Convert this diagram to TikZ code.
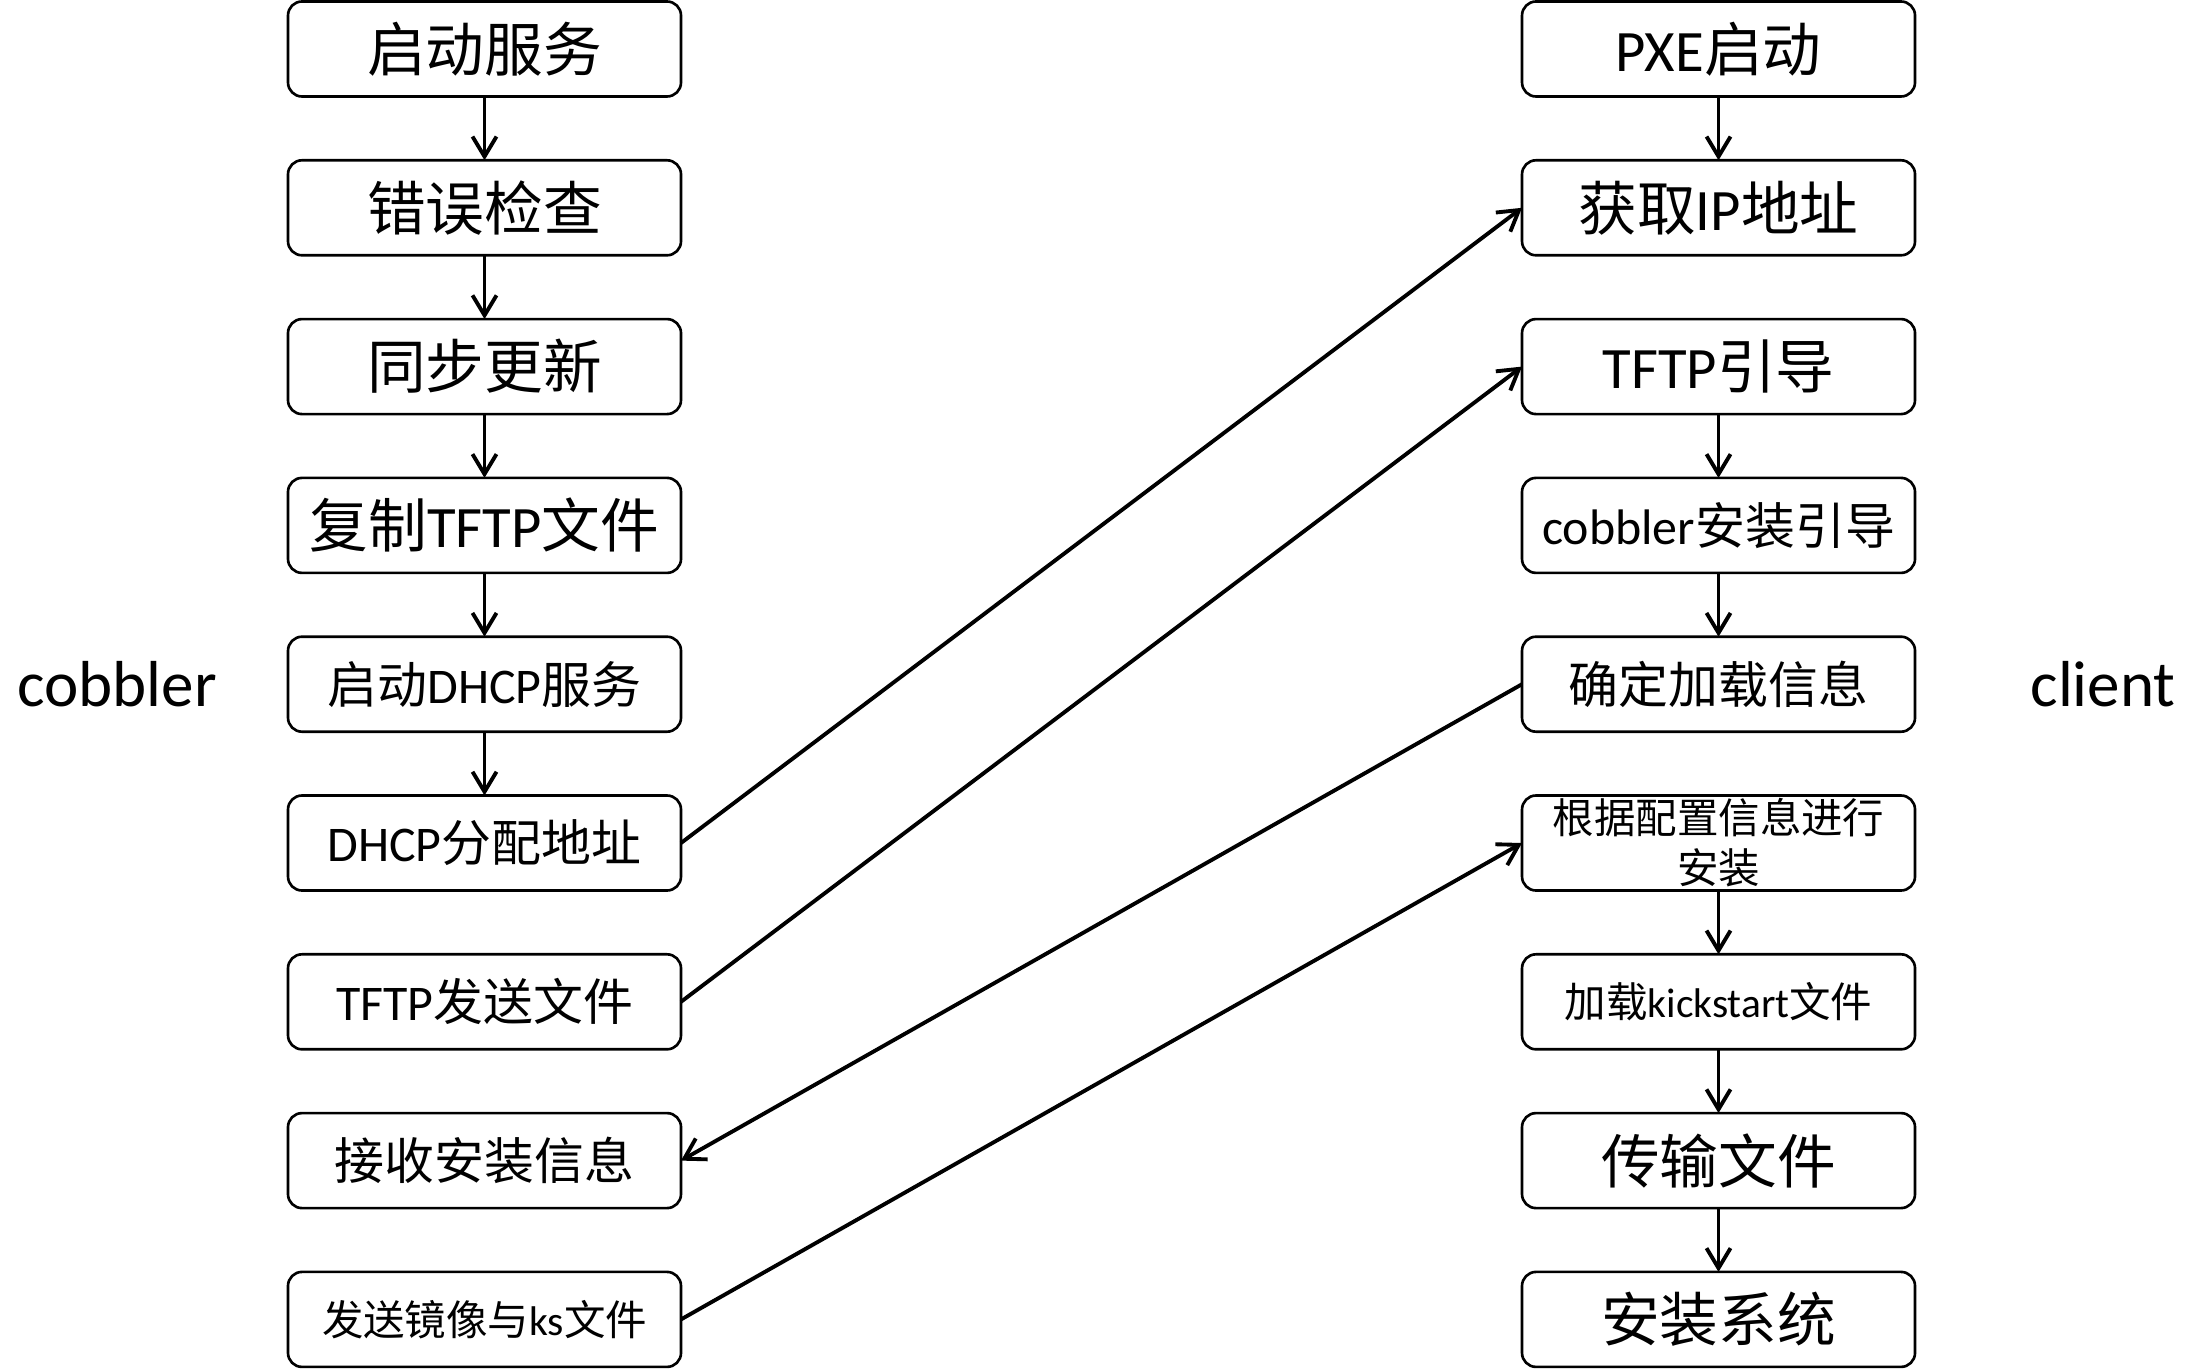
\documentclass[tikz,border=0pt]{standalone}
\usepackage{fontspec}
\setmainfont{Noto Sans CJK SC}
\newfontfamily\latinfont{Carlito}
\usetikzlibrary{arrows.meta,positioning}

\newcommand\latn[1]{{\latinfont #1}}
\newcommand\bigtxt{\fontsize{16.7}{20}\selectfont}
\newcommand\midtxt{\fontsize{14.2}{17}\selectfont}
\newcommand\smalltxt{\fontsize{11.8}{14.3}\selectfont}

\begin{document}
\begin{tikzpicture}[-,>={Straight Barb[length=2mm,width=2.4mm]},line width=1.1pt,
                    node distance=.638cm]
\useasboundingbox (0,0) rectangle (21.92,-13.69);
\tikzset{StepBox/.style = {draw,rectangle,rounded corners=1.4mm,line width=.75pt,
                           minimum width=3.93cm,minimum height=.95cm,
                           inner sep=0pt,outer sep=0pt,align=center,font=\bigtxt},
         MidBox/.style = {StepBox,font=\midtxt},
         SmallBox/.style = {StepBox,font=\smalltxt},
         SideLabel/.style = {font=\latinfont\fontsize{18.5}{22}\selectfont}}
% cobbler side
\node[StepBox] (cob1) at (4.845,-.49) {启动服务};
\node[StepBox] (cob2) [below=of cob1] {错误检查};
\node[StepBox] (cob3) [below=of cob2] {同步更新};
\node[StepBox] (cob4) [below=of cob3] {复制\latn{TFTP}文件};
\node[MidBox] (cob5) [below=of cob4] {启动\latn{DHCP}服务};
\node[MidBox] (cob6) [below=of cob5] {\latn{DHCP}分配地址};
\node[MidBox] (cob7) [below=of cob6] {\latn{TFTP}发送文件};
\node[MidBox] (cob8) [below=of cob7] {接收安装信息};
\node[SmallBox] (cob9) [below=of cob8] {发送镜像与\latn{ks}文件};
% client side
\node[StepBox] (cli1) at (17.185,-.49) {\latn{PXE}启动};
\node[StepBox] (cli2) [below=of cli1] {获取\latn{IP}地址};
\node[StepBox] (cli3) [below=of cli2] {\latn{TFTP}引导};
\node[MidBox] (cli4) [below=of cli3] {\latn{cobbler}安装引导};
\node[MidBox] (cli5) [below=of cli4] {确定加载信息};
\node[SmallBox] (cli6) [below=of cli5] {根据配置信息进行\\安装};
\node[SmallBox] (cli7) [below=of cli6] {加载\latn{kickstart}文件};
\node[StepBox] (cli8) [below=of cli7] {传输文件};
\node[StepBox] (cli9) [below=of cli8] {安装系统};

\foreach \a/\b in {1/2,2/3,3/4,4/5,5/6}
  \draw[->] (cob\a) -- (cob\b);
\foreach \a/\b in {1/2,3/4,4/5,6/7,7/8,8/9}
  \draw[->] (cli\a) -- (cli\b);

\draw[->] (cob6.east) -- (cli2.west);
\draw[->] (cob7.east) -- (cli3.west);
\draw[->] (cli5.west) -- (cob8.east);
\draw[->] (cob9.east) -- (cli6.west);

\node[SideLabel] (cobbler) at (1.17,-6.842) {cobbler};
\node[SideLabel] (client) at (21.03,-6.842) {client};
\end{tikzpicture}
\end{document}
